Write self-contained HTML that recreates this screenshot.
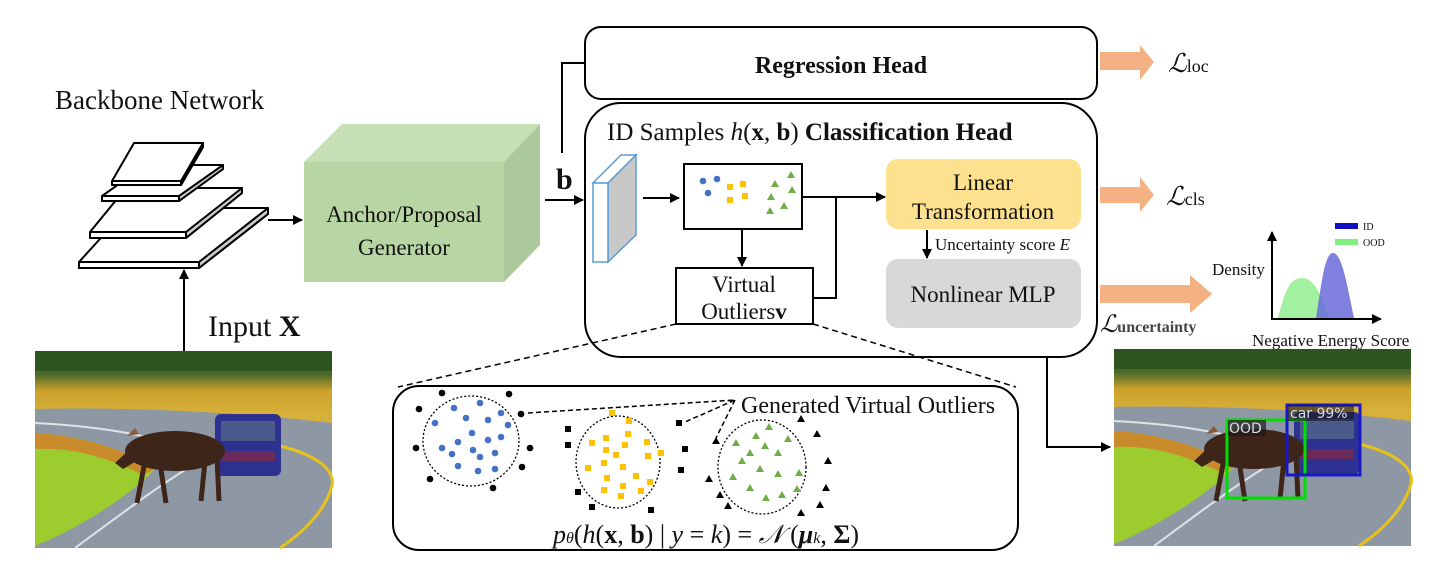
<!DOCTYPE html>
<html><head><meta charset="utf-8">
<style>
html,body{margin:0;padding:0;background:#fff;}
svg{display:block;}
text{font-family:"Liberation Serif","DejaVu Serif",serif;fill:#111;}
</style></head>
<body>
<svg width="1450" height="582" viewBox="0 0 1450 582" xmlns="http://www.w3.org/2000/svg">
<defs>
<marker id="ah" markerWidth="10" markerHeight="10" refX="9" refY="5" orient="auto" markerUnits="userSpaceOnUse">
<path d="M0,0 L10,5 L0,10 z" fill="#000"/></marker>
<linearGradient id="field" x1="0" y1="0" x2="0" y2="1">
<stop offset="0" stop-color="#2f5a22"/><stop offset="0.12" stop-color="#4c6a2a"/>
<stop offset="0.2" stop-color="#c9a02a"/><stop offset="0.32" stop-color="#d8b13a"/></linearGradient>
<g id="photo">
<rect x="0" y="0" width="297" height="197" fill="url(#field)"/>
<rect x="0" y="0" width="297" height="20" fill="#2e5520"/>
<path d="M0,58 C80,56 200,60 297,72 L297,197 L0,197 z" fill="#8e98a4"/>
<path d="M0,82 C40,84 90,97 120,118 C100,140 50,175 0,195 z" fill="#9ccc2e"/>
<path d="M0,82 C40,84 90,97 120,118 L108,124 C70,105 35,96 0,98 z" fill="#c88a2a"/>
<path d="M0,72 C60,75 100,82 150,95" stroke="#dfe3e8" stroke-width="2" fill="none"/>
<path d="M40,197 C90,160 130,130 165,110" stroke="#dfe3e8" stroke-width="2" fill="none"/>
<path d="M245,95 C285,105 300,120 297,135 C290,160 270,180 245,197" stroke="#e6c21a" stroke-width="3" fill="none"/>
<rect x="180" y="63" width="66" height="62" rx="6" fill="#2d3190"/>
<rect x="186" y="70" width="54" height="20" fill="#4a5a8a"/>
<rect x="186" y="100" width="54" height="10" fill="#6a2a5a"/>
<ellipse cx="140" cy="100" rx="50" ry="20" fill="#3d2519"/>
<path d="M95,98 L80,112 L88,118 L105,108 z" fill="#3d2519"/>
<path d="M92,85 l8,-8 l4,6 z" fill="#8a5a3a"/>
<path d="M110,110 l-8,42 M125,112 l6,40 M170,110 l-4,40 M182,106 l2,44" stroke="#3d2519" stroke-width="5"/>
</g>
</defs>

<!-- Backbone -->
<text x="55" y="109" font-size="27">Backbone Network</text>
<g stroke="#000" stroke-width="2" stroke-linejoin="round">
<path d="M79,262 L128,208 L268,208 L268,214 L199,268 L79,268 z" fill="#fff"/>
<path d="M199,262 L268,208 L268,214 L199,268 z" fill="#ccc"/>
<path d="M79,262 L199,262 L199,268 L79,268 z" fill="#fff"/>
<path d="M90,232 L126,188 L242,188 L242,193 L186,238 L90,238 z" fill="#fff"/>
<path d="M186,232 L242,188 L242,193 L186,238 z" fill="#ccc"/>
<path d="M90,232 L186,232 L186,238 L90,238 z" fill="#fff"/>
<path d="M102,196 L146,165 L223,165 L223,169 L179,201 L102,201 z" fill="#fff"/>
<path d="M179,196 L223,165 L223,169 L179,201 z" fill="#ccc"/>
<path d="M102,196 L179,196 L179,201 L102,201 z" fill="#fff"/>
<path d="M112,181 L134,143 L203,143 L203,147 L181,185 L112,185 z" fill="#fff"/>
<path d="M181,181 L203,143 L203,147 L181,185 z" fill="#ccc"/>
<path d="M112,181 L181,181 L181,185 L112,185 z" fill="#fff"/>
</g>
<line x1="268" y1="220" x2="302" y2="220" stroke="#000" stroke-width="2" marker-end="url(#ah)"/>
<line x1="184" y1="352" x2="184" y2="270" stroke="#000" stroke-width="2" marker-end="url(#ah)"/>
<text x="208" y="336" font-size="30">Input <tspan font-weight="bold">X</tspan></text>

<!-- Anchor box -->
<path d="M304,162 L342,124 L540,124 L504,162 z" fill="#c6dfb4"/>
<path d="M504,162 L540,124 L540,245 L504,282 z" fill="#abc99a"/>
<rect x="304" y="162" width="200" height="120" fill="#b8d6a4"/>
<text x="404" y="222" font-size="23" text-anchor="middle">Anchor/Proposal</text>
<text x="404" y="255" font-size="23" text-anchor="middle">Generator</text>

<text x="556" y="189" font-size="30" font-weight="bold">b</text>
<line x1="545" y1="200" x2="583" y2="200" stroke="#000" stroke-width="2" marker-end="url(#ah)"/>
<path d="M562,153 L562,63 L585,63" fill="none" stroke="#000" stroke-width="2"/>

<!-- Regression head -->
<rect x="585" y="27" width="512" height="72" rx="16" fill="#fff" stroke="#000" stroke-width="2"/>
<text x="841" y="73" font-size="24" font-weight="bold" text-anchor="middle">Regression Head</text>

<!-- Classification head -->
<rect x="585" y="103" width="512" height="254" rx="36" fill="#fff" stroke="#000" stroke-width="2"/>
<text x="607" y="140" font-size="25">ID Samples <tspan font-style="italic">h</tspan>(<tspan font-weight="bold">x</tspan>, <tspan font-weight="bold">b</tspan>) <tspan font-weight="bold">Classification Head</tspan></text>

<path d="M593,183 L608,183 L636,155 L621,155 z" fill="#fff" stroke="#5b9bd5" stroke-width="1.5"/>
<path d="M608,183 L636,155 L636,235 L608,262 z" fill="#c8c8c8" stroke="#5b9bd5" stroke-width="1.5"/>
<rect x="593" y="183" width="15" height="79" fill="#fff" stroke="#5b9bd5" stroke-width="1.5"/>
<line x1="643" y1="198" x2="679" y2="198" stroke="#000" stroke-width="2" marker-end="url(#ah)"/>

<rect x="684" y="164" width="118" height="65" fill="#fff" stroke="#000" stroke-width="2"/>
<g fill="#4472c4"><circle cx="703" cy="181" r="3.3"/><circle cx="717" cy="179" r="3.3"/><circle cx="708" cy="193" r="3.3"/></g>
<g fill="#ffc000"><rect x="727" y="184" width="6" height="6"/><rect x="740" y="181" width="6" height="6"/><rect x="727" y="197" width="6" height="6"/><rect x="742" y="193" width="6" height="6"/></g>
<g fill="#70ad47"><path d="M771,187 l4,-7 l4,7z M787,178 l4,-7 l4,7z M767,200 l4,-7 l4,7z M788,193 l4,-7 l4,7z M766,214 l4,-7 l4,7z M780,209 l4,-7 l4,7z"/></g>

<line x1="742" y1="230" x2="742" y2="266" stroke="#000" stroke-width="2" marker-end="url(#ah)"/>
<rect x="676" y="268" width="137" height="56" fill="#fff" stroke="#000" stroke-width="2"/>
<text x="744" y="292" font-size="23" text-anchor="middle">Virtual</text>
<text x="744" y="319" font-size="23" text-anchor="middle">Outliers<tspan font-weight="bold">v</tspan></text>

<path d="M802,197 L836,197 M813,298 L836,298 L836,197" fill="none" stroke="#000" stroke-width="2"/>
<line x1="836" y1="197" x2="885" y2="197" stroke="#000" stroke-width="2" marker-end="url(#ah)"/>

<rect x="886" y="159" width="195" height="70" rx="12" fill="#fde18f"/>
<text x="983" y="190" font-size="23" text-anchor="middle">Linear</text>
<text x="983" y="219" font-size="23" text-anchor="middle">Transformation</text>
<line x1="927" y1="230" x2="927" y2="258" stroke="#000" stroke-width="2" marker-end="url(#ah)"/>
<text x="935" y="250" font-size="17">Uncertainty score <tspan font-style="italic">E</tspan></text>
<rect x="886" y="259" width="195" height="69" rx="12" fill="#d8d8d8"/>
<text x="983" y="302" font-size="23" text-anchor="middle">Nonlinear MLP</text>

<!-- Orange arrows & losses -->
<g fill="#f4b183">
<path d="M1100,52 L1140,52 L1140,45 L1154,62 L1140,80 L1140,70 L1100,70 z"/>
<path d="M1100,187 L1140,187 L1140,177 L1154,195 L1140,212 L1140,203 L1100,203 z"/>
<path d="M1100,285 L1190,285 L1190,275 L1212,294 L1190,313 L1190,303 L1100,303 z"/>
</g>
<text x="1168" y="72" font-size="26" font-style="italic">ℒ<tspan font-size="18" font-style="normal">loc</tspan></text>
<text x="1166" y="205" font-size="26" font-style="italic">ℒ<tspan font-size="18" font-style="normal">cls</tspan></text>
<text x="1100" y="332" font-size="24" font-style="italic">ℒ<tspan font-size="16" font-style="normal" font-weight="bold" fill="#444">uncertainty</tspan></text>

<!-- density plot -->
<path d="M1278,318 C1285,290 1290,278 1302,278 C1316,278 1322,300 1330,318 z" fill="#90ee90" opacity="0.85"/>
<path d="M1316,318 C1322,280 1325,253 1333,253 C1342,253 1347,285 1354,318 z" fill="#6a6ad8" opacity="0.85"/>
<path d="M1272,320 L1272,232" stroke="#000" stroke-width="2" marker-end="url(#ah)"/>
<path d="M1271,319 L1381,319" stroke="#000" stroke-width="2" marker-end="url(#ah)"/>
<rect x="1335" y="223" width="23" height="6" fill="#1010c0"/>
<rect x="1335" y="239" width="23" height="6" fill="#80f080"/>
<text x="1363" y="230" font-size="10">ID</text>
<text x="1363" y="246" font-size="10">OOD</text>
<text x="1212" y="275" font-size="17">Density</text>
<text x="1252" y="346" font-size="17">Negative Energy Score</text>

<!-- photos -->
<use href="#photo" transform="translate(35,351)"/>
<use href="#photo" transform="translate(1114,349)"/>
<rect x="1227" y="420" width="78" height="78" fill="none" stroke="#00e000" stroke-width="3"/>
<rect x="1287" y="405" width="73" height="70" fill="none" stroke="#1818c8" stroke-width="3"/>
<rect x="1228" y="420" width="38" height="16" fill="#1a1a1a" opacity="0.7"/>
<text x="1229" y="433" font-size="14" style="font-family:'DejaVu Sans',sans-serif;fill:#ddd">OOD</text>
<rect x="1288" y="405" width="66" height="16" fill="#1a1a1a" opacity="0.6"/>
<text x="1290" y="418" font-size="14" style="font-family:'DejaVu Sans',sans-serif;fill:#ddd">car 99%</text>

<path d="M1047,357 L1047,447 L1110,447" fill="none" stroke="#000" stroke-width="2" marker-end="url(#ah)"/>

<!-- bottom box -->
<path d="M676,324 L398,387 M813,324 L1016,387" stroke="#000" stroke-width="1.5" stroke-dasharray="6,4"/>
<rect x="393" y="386" width="625" height="164" rx="26" fill="#fff" stroke="#000" stroke-width="2"/>
<g fill="none" stroke="#000" stroke-width="1.3" stroke-dasharray="2,2">
<ellipse cx="471" cy="441" rx="48" ry="45"/>
<ellipse cx="618" cy="462" rx="42" ry="46"/>
<ellipse cx="762" cy="467" rx="44" ry="47"/>
</g>
<g fill="#000">
<circle cx="442" cy="393" r="3.3"/><circle cx="509" cy="394" r="3.3"/><circle cx="419" cy="409" r="3.3"/><circle cx="521" cy="414" r="3.3"/><circle cx="416" cy="448" r="3.3"/><circle cx="530" cy="448" r="3.3"/><circle cx="522" cy="467" r="3.3"/><circle cx="430" cy="479" r="3.3"/><circle cx="493" cy="488" r="3.3"/>
<rect x="565" y="426" width="6" height="6"/><rect x="565" y="442" width="6" height="6"/><rect x="676" y="420" width="6" height="6"/><rect x="682" y="446" width="6" height="6"/><rect x="678" y="467" width="6" height="6"/><rect x="575" y="489" width="6" height="6"/><rect x="589" y="504" width="6" height="6"/><rect x="648" y="507" width="6" height="6"/>
<path d="M797,422 l4,-7 l4,7z M813,437 l4,-7 l4,7z M712,444 l4,-7 l4,7z M824,464 l4,-7 l4,7z M705,482 l4,-7 l4,7z M822,491 l4,-7 l4,7z M716,498 l4,-7 l4,7z M724,509 l4,-7 l4,7z M816,508 l4,-7 l4,7z M797,516 l4,-7 l4,7z"/>
</g>
<g fill="#4472c4">
<circle cx="454" cy="408" r="3.3"/><circle cx="480" cy="403" r="3.3"/><circle cx="501" cy="413" r="3.3"/><circle cx="435" cy="423" r="3.3"/><circle cx="466" cy="418" r="3.3"/><circle cx="488" cy="420" r="3.3"/><circle cx="508" cy="425" r="3.3"/><circle cx="472" cy="433" r="3.3"/><circle cx="458" cy="442" r="3.3"/><circle cx="488" cy="440" r="3.3"/><circle cx="501" cy="437" r="3.3"/><circle cx="442" cy="448" r="3.3"/><circle cx="473" cy="450" r="3.3"/><circle cx="452" cy="454" r="3.3"/><circle cx="480" cy="457" r="3.3"/><circle cx="495" cy="453" r="3.3"/><circle cx="458" cy="466" r="3.3"/><circle cx="478" cy="471" r="3.3"/><circle cx="495" cy="469" r="3.3"/>
</g>
<g fill="#ffc000">
<rect x="609" y="410" width="6" height="6"/><rect x="626" y="418" width="6" height="6"/><rect x="625" y="431" width="6" height="6"/><rect x="603" y="435" width="6" height="6"/><rect x="589" y="440" width="6" height="6"/><rect x="622" y="442" width="6" height="6"/><rect x="644" y="439" width="6" height="6"/><rect x="603" y="447" width="6" height="6"/><rect x="613" y="452" width="6" height="6"/><rect x="658" y="450" width="6" height="6"/><rect x="645" y="453" width="6" height="6"/><rect x="601" y="460" width="6" height="6"/><rect x="620" y="464" width="6" height="6"/><rect x="585" y="465" width="6" height="6"/><rect x="633" y="473" width="6" height="6"/><rect x="604" y="475" width="6" height="6"/><rect x="647" y="479" width="6" height="6"/><rect x="620" y="483" width="6" height="6"/><rect x="601" y="487" width="6" height="6"/><rect x="638" y="488" width="6" height="6"/><rect x="618" y="493" width="6" height="6"/>
</g>
<g fill="#70ad47">
<path d="M732,446 l4,-7 l4,7z M752,439 l4,-7 l4,7z M765,430 l4,-7 l4,7z M784,442 l4,-7 l4,7z M761,449 l4,-7 l4,7z M746,456 l4,-7 l4,7z M774,456 l4,-7 l4,7z M738,464 l4,-7 l4,7z M756,472 l4,-7 l4,7z M774,477 l4,-7 l4,7z M795,476 l4,-7 l4,7z M729,480 l4,-7 l4,7z M746,491 l4,-7 l4,7z M762,501 l4,-7 l4,7z M778,498 l4,-7 l4,7z M793,492 l4,-7 l4,7z"/>
</g>
<path d="M528,413 L735,400 L685,422 M735,400 L716,438" fill="none" stroke="#000" stroke-width="1.5" stroke-dasharray="5,3"/>
<text x="741" y="413" font-size="24">Generated Virtual Outliers</text>
<text x="706" y="543" font-size="26" text-anchor="middle" fill="#333"><tspan font-style="italic">p</tspan><tspan font-size="16" font-style="italic">θ</tspan>(<tspan font-style="italic">h</tspan>(<tspan font-weight="bold">x</tspan>, <tspan font-weight="bold">b</tspan>) | <tspan font-style="italic">y</tspan> = <tspan font-style="italic">k</tspan>) = <tspan font-style="italic">𝒩</tspan> (<tspan font-weight="bold" font-style="italic">μ</tspan><tspan font-size="16" font-style="italic">k</tspan>, <tspan font-weight="bold">Σ</tspan>)</text>
</svg>
</body></html>
